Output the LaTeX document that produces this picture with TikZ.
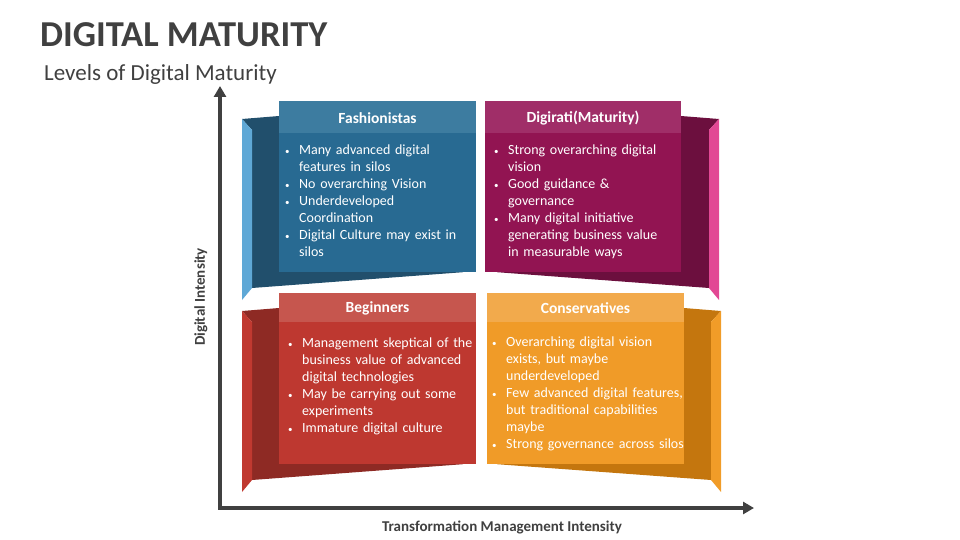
\documentclass[tikz,border=0pt]{standalone}
\usepackage{fontspec}
\setmainfont{Carlito}
\usetikzlibrary{arrows.meta}
\definecolor{txt}{HTML}{404040}
\hyphenpenalty=10000
\newcommand\bl[1]{\par\hangindent=14pt\hangafter=1\noindent\makebox[14pt][l]{\small\textbullet}#1\par}
\tikzset{body/.style={anchor=north west,text=white,text width=#1,align=left,inner sep=0pt,font=\fontsize{14}{17}\selectfont},
hdr/.style={text=white,font=\fontsize{15.5}{17}\bfseries}}
\begin{document}
\begin{tikzpicture}[x=1pt,y=-1pt]
\useasboundingbox (0,0) rectangle (960,540);
\node[anchor=west,text=txt,font=\fontsize{36.5}{40}\bfseries\selectfont,inner sep=0pt] (t) at (40,35) {DIGITAL MATURITY};
\node[anchor=west,text=txt,font=\fontsize{23}{26}\selectfont,inner sep=0pt] (s) at (44,74) {Levels of Digital Maturity};
% axes
\coordinate (o) at (220,508);
\coordinate (yt) at (220,86);
\coordinate (xt) at (754,508);
\draw[txt,line width=3.5pt,-{Triangle[length=11pt,width=12pt]}] (o) -- (yt);
\draw[txt,line width=3.5pt,-{Triangle[length=11pt,width=12pt]}] ([xshift=-1.7pt]o) -- (xt);
\node[text=txt,font=\fontsize{15}{17}\bfseries,rotate=90] (yl) at (201,297) {Digital Intensity};
\node[text=txt,font=\fontsize{15}{17}\bfseries] (xl) at (502,527) {Transformation Management Intensity};
% Fashionistas
\fill[fill={rgb,255:red,33;green,79;blue,108}] (242,119) -- (279,116) -- (279,271) -- (463,272.2) -- (252,288) -- (252,130) -- cycle;
\fill[fill={rgb,255:red,95;green,168;blue,214}] (242,119) -- (252,130) -- (252,288) -- (242,300) -- cycle;
\fill[fill={rgb,255:red,40;green,106;blue,146}] (279,101) rectangle (476,272);
\fill[fill={rgb,255:red,61;green,124;blue,160}] (279,101) rectangle (476,133);
\node[hdr] (h1) at (377.5,118) {Fashionistas};
\node[body=190pt] (b1) at (285,137) {\bl{Many advanced digital\newline features in silos}\bl{No overarching Vision}\bl{Underdeveloped\newline Coordination}\bl{Digital Culture may exist in\newline silos}};
% Digirati
\fill[fill={rgb,255:red,108;green,15;blue,62}] (719,119) -- (681,116) -- (681,271) -- (497,272.2) -- (709,288) -- (709,130) -- cycle;
\fill[fill={rgb,255:red,226;green,72;blue,148}] (719,119) -- (709,130) -- (709,288) -- (719,300) -- cycle;
\fill[fill={rgb,255:red,146;green,20;blue,82}] (485,101) rectangle (681,272);
\fill[fill={rgb,255:red,160;green,46;blue,104}] (485,101) rectangle (681,133);
\node[hdr] (h2) at (583,118) {Digirati(Maturity)};
\node[body=190pt] (b2) at (494,137) {\bl{Strong overarching digital\newline vision}\bl{Good guidance \&\newline governance}\bl{Many digital initiative\newline generating business value\newline in measurable ways}};
% Beginners
\fill[fill={rgb,255:red,142;green,42;blue,36}] (242,311) -- (279,308) -- (279,463) -- (463,464.2) -- (252,480) -- (252,322) -- cycle;
\fill[fill={rgb,255:red,192;green,57;blue,48}] (242,311) -- (252,322) -- (252,480) -- (242,492) -- cycle;
\fill[fill={rgb,255:red,190;green,56;blue,48}] (279,293) rectangle (476,464);
\fill[fill={rgb,255:red,198;green,86;blue,78}] (279,293) rectangle (476,322);
\node[hdr] (h3) at (377.5,308) {Beginners};
\node[body=195pt] (b3) at (288,330) {\bl{Management skeptical of the\newline business value of advanced\newline digital technologies}\bl{May be carrying out some\newline experiments}\bl{Immature digital culture}};
% Conservatives
\fill[fill={rgb,255:red,196;green,118;blue,14}] (721,311) -- (684,308) -- (684,463) -- (497,464.2) -- (711,480) -- (711,322) -- cycle;
\fill[fill={rgb,255:red,241;green,156;blue,40}] (721,311) -- (711,322) -- (711,480) -- (721,492) -- cycle;
\fill[fill={rgb,255:red,240;green,155;blue,40}] (487,293) rectangle (684,464);
\fill[fill={rgb,255:red,242;green,170;blue,76}] (487,293) rectangle (684,322);
\node[hdr] (h4) at (585.5,308) {Conservatives};
\node[body=200pt] (b4) at (492,329) {\bl{Overarching digital vision\newline exists, but maybe\newline underdeveloped}\bl{Few advanced digital features,\newline but traditional capabilities\newline maybe}\bl{Strong governance across silos}};
\end{tikzpicture}
\end{document}
